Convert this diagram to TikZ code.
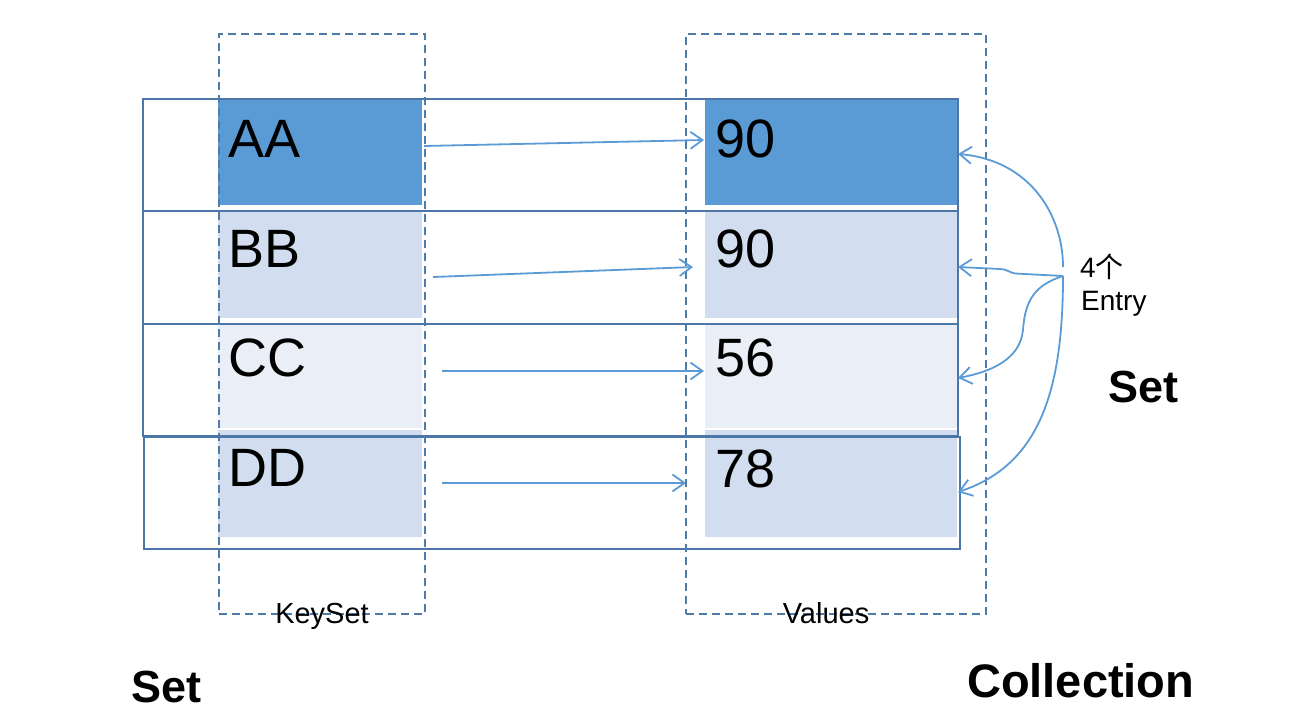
\documentclass[tikz,border=0pt]{standalone}
\usepackage{fontspec}
\setmainfont{Liberation Sans}
\newfontfamily\cjkfont{Noto Sans CJK SC}
\usetikzlibrary{arrows.meta,calc}
\definecolor{darkcell}{HTML}{5B9BD5}
\definecolor{lightcell}{HTML}{D2DEEF}
\definecolor{palecell}{HTML}{E9EEF7}
\definecolor{rowline}{HTML}{4A77A8}
\definecolor{dashline}{HTML}{4F7BA9}
\definecolor{arrowblue}{HTML}{5B9BD5}
\tikzset{
  cellbox/.style={draw=none,inner sep=0pt,anchor=north west},
  rowbox/.style={draw=rowline,line width=2pt,inner sep=0pt,anchor=north west},
  groupbox/.style={draw=dashline,line width=2pt,dash pattern=on 8pt off 5pt,inner sep=0pt,anchor=north west},
  celltext/.style={inner sep=0pt,anchor=base west,font=\fontsize{54}{60}\selectfont},
  smalltext/.style={inner sep=0pt,anchor=base west,font=\fontsize{28}{32}\selectfont},
  bigtext/.style={inner sep=0pt,anchor=base west,font=\fontsize{45}{50}\selectfont\bfseries},
  link/.style={draw=arrowblue,line width=1.8pt,-{Straight Barb[length=12pt,width=17pt,line width=1.8pt]}},
}
\begin{document}
\begin{tikzpicture}[x=1pt,y=-1pt]
\useasboundingbox (0,0) rectangle (1308,717);
% key cells
\node[cellbox,fill=darkcell,minimum width=204pt,minimum height=106pt] (k1) at (218,99) {};
\node[cellbox,fill=lightcell,minimum width=204pt,minimum height=106pt] (k2) at (218,212) {};
\node[cellbox,fill=palecell,minimum width=204pt,minimum height=103pt] (k3) at (218,325) {};
\node[cellbox,fill=lightcell,minimum width=204pt,minimum height=107pt] (k4) at (218,430) {};
% value cells
\node[cellbox,fill=darkcell,minimum width=252pt,minimum height=106pt] (v1) at (705,99) {};
\node[cellbox,fill=lightcell,minimum width=252pt,minimum height=106pt] (v2) at (705,212) {};
\node[cellbox,fill=palecell,minimum width=252pt,minimum height=103pt] (v3) at (705,325) {};
\node[cellbox,fill=lightcell,minimum width=252pt,minimum height=107pt] (v4) at (705,430) {};
% rows
\node[rowbox,minimum width=815pt,minimum height=112pt] (r1) at (142,98) {};
\node[rowbox,minimum width=815pt,minimum height=113pt] (r2) at (142,210) {};
\node[rowbox,minimum width=815pt,minimum height=112pt] (r3) at (142,323) {};
\node[rowbox,minimum width=816pt,minimum height=112pt] (r4) at (143,436) {};
% dashed groups
\node[groupbox,minimum width=206pt,minimum height=580pt] (keyset) at (218,33) {};
\node[groupbox,minimum width=300pt,minimum height=580pt] (values) at (685,33) {};
% cell texts
\node[celltext] (tAA) at (228,157) {AA};
\node[celltext] (tBB) at (228,267) {BB};
\node[celltext] (tCC) at (228,376) {CC};
\node[celltext] (tDD) at (228,486) {DD};
\node[celltext] (t90a) at (715,157) {90};
\node[celltext] (t90b) at (715,267) {90};
\node[celltext] (t56) at (715,376) {56};
\node[celltext] (t78) at (715,487) {78};
% labels
\node[smalltext,anchor=base,font=\fontsize{29}{32}\selectfont] (lk) at (322,623) {KeySet};
\node[smalltext,anchor=base,font=\fontsize{29}{32}\selectfont] (lv) at (826,623) {Values};
\node[smalltext] (l4) at (1080,277) {4{\cjkfont 个}};
\node[smalltext] (lentry) at (1081,310) {Entry};
\node[bigtext] (lsetr) at (1108,402) {Set};
\node[bigtext] (lsetl) at (131,702) {Set};
\node[bigtext,font=\fontsize{47}{50}\selectfont\bfseries] (lcoll) at (967,697) {Collection};
% key -> value arrows
\coordinate (s1) at (424,146); \coordinate (e1) at (704,140);
\coordinate (s2) at (433,277); \coordinate (e2) at (693,267);
\coordinate (s3) at (442,371); \coordinate (e3) at (704,371);
\coordinate (s4) at (442,483); \coordinate (e4) at (686,483);
\draw[link] (s1) -- (e1);
\draw[link] (s2) -- (e2);
\draw[link] (s3) -- (e3);
\draw[link] (s4) -- (e4);
% entry curves
\coordinate (ja) at (1063,267);
\coordinate (jb) at (1063,276);
\coordinate (c1) at (958,154);
\coordinate (c2) at (958,267);
\coordinate (c3) at (958,378);
\coordinate (c4) at (958,492);
\draw[link] (ja) .. controls (1063,215) and (1030,160) .. (c1);
\draw[link] (jb) -- (1015,273.5) .. controls (1008,272) and (1008,269.5) .. (1000,269) -- (c2);
\draw[link] (jb) .. controls (1035,285) and (1025,300) .. (1023,330) .. controls (1020,360) and (990,372) .. (c3);
\draw[link] (jb) .. controls (1063,390) and (1040,465) .. (c4);
\end{tikzpicture}
\end{document}
